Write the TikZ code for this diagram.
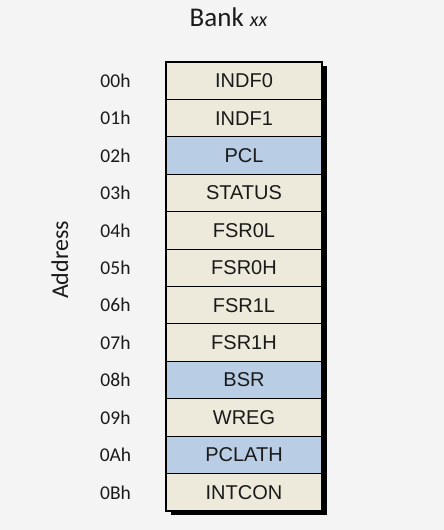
\documentclass[tikz,border=0pt]{standalone}
\usepackage{fontspec}
\setmainfont{Carlito}
\newfontfamily\regfont{Liberation Sans}
\usetikzlibrary{positioning, shadows}
\definecolor{cbg}{HTML}{F4F4F4}
\definecolor{cbeige}{HTML}{EDEADB}
\definecolor{cblue}{HTML}{B9CDE5}
\definecolor{ctext}{HTML}{1A1A1A}
\tikzset{
  reg/.style={draw=black, fill=#1, line width=1.1pt, minimum width=156pt, minimum height=37.42pt,
    inner sep=0pt, text=ctext, font=\regfont\fontsize{20}{22}\selectfont,
    drop shadow={shadow xshift=4.5pt, shadow yshift=-3.5pt, fill=black, opacity=1}},
  reg/.default=cbeige,
  addr/.style={font=\fontsize{19.5}{22}\selectfont, text=ctext},
  title/.style={font=\fontsize{27}{30}\selectfont, text=ctext},
}
\begin{document}
\begin{tikzpicture}[x=1pt, y=-1pt]
  \fill[cbg] (0,0) rectangle (444,530);
  \useasboundingbox (0,0) rectangle (444,530);
  \node[title, anchor=base] (bank) at (228.5,26.7) {Bank {\itshape\fontsize{20}{22}\selectfont xx}};
  \foreach \ad/\nm/\col [count=\i from 0] in {00h/INDF0/cbeige, 01h/INDF1/cbeige, 02h/PCL/cblue,
      03h/STATUS/cbeige, 04h/FSR0L/cbeige, 05h/FSR0H/cbeige, 06h/FSR1L/cbeige, 07h/FSR1H/cbeige,
      08h/BSR/cblue, 09h/WREG/cbeige, 0Ah/PCLATH/cblue, 0Bh/INTCON/cbeige} {
    \node[reg=\col] (reg\i) at (244,{62+37.42*(\i+0.5)}) {\nm};
    \node[addr] (addr\i) at (115.5,{62+37.42*(\i+0.5)}) {\ad};
  }
  \node[title, font=\fontsize{24}{26}\selectfont, rotate=90] (address) at (60,260) {Address};
\end{tikzpicture}
\end{document}
